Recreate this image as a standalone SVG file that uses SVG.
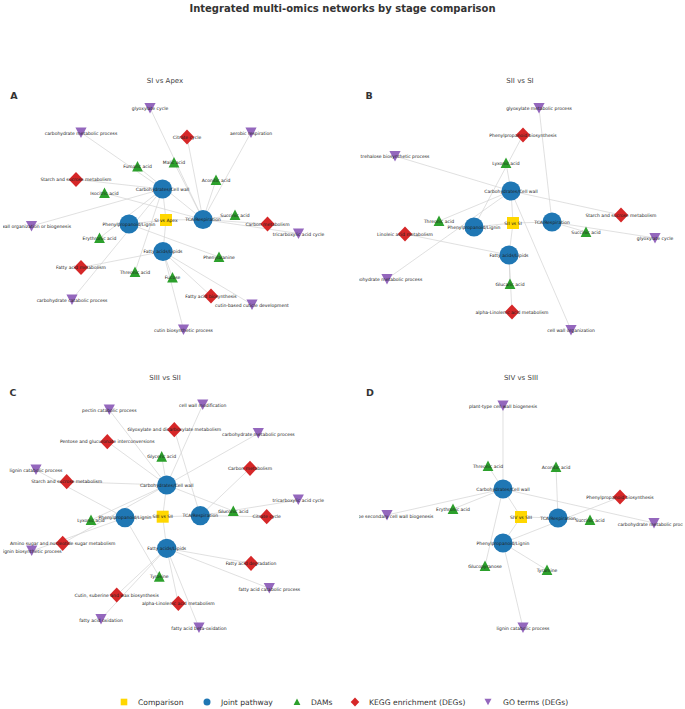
<svg xmlns="http://www.w3.org/2000/svg" xmlns:xlink="http://www.w3.org/1999/xlink" width="685" height="709" viewBox="0 0 685 709">
<style>
.lbl{font-family:"DejaVu Sans",sans-serif;font-size:4.5px;fill:#222;text-anchor:middle;dominant-baseline:central}
.ptitle{font-family:"DejaVu Sans",sans-serif;font-size:7px;fill:#444;text-anchor:middle;dominant-baseline:central}
.plet{font-family:"DejaVu Sans",sans-serif;font-size:9.5px;font-weight:bold;fill:#333;text-anchor:middle;dominant-baseline:central}
.title{font-family:"DejaVu Sans",sans-serif;font-size:10px;font-weight:bold;fill:#333;text-anchor:middle;dominant-baseline:central}
.leg{font-family:"DejaVu Sans",sans-serif;font-size:7.6px;fill:#333;dominant-baseline:central}
.edges line{stroke:#d2d2d2;stroke-width:0.7}
</style>
<defs>
<rect id="cmp" x="-6" y="-6" width="12" height="12" fill="#ffd700"/>
<circle id="joint" r="9.6" fill="#1f77b4"/>
<polygon id="dam" points="0,-5.6 -5.4,5 5.4,5" fill="#2ca02c"/>
<polygon id="kegg" points="0,-7.6 7.2,0 0,7.6 -7.2,0" fill="#d62728"/>
<polygon id="go" points="-5.6,-5 5.6,-5 0,5.6" fill="#9467bd"/>
<clipPath id="clipL"><rect x="3" y="60" width="338" height="640"/></clipPath>
<clipPath id="clipR"><rect x="359" y="60" width="324" height="640"/></clipPath>
</defs>
<rect width="685" height="709" fill="#fff"/>
<text class="title" x="342.5" y="8">Integrated multi-omics networks by stage comparison</text>

<!-- Panel A -->
<text class="ptitle" x="165" y="81">SI vs Apex</text>
<text class="plet" x="14" y="95">A</text>
<g clip-path="url(#clipL)">
<g id="edges-A" class="edges">
<line x1="166" y1="220" x2="162.5" y2="189"/><line x1="166" y1="220" x2="129" y2="224"/><line x1="166" y1="220" x2="203" y2="219.5"/><line x1="166" y1="220" x2="163" y2="251.5"/>
<line x1="162.5" y1="189" x2="81" y2="132.5"/><line x1="162.5" y1="189" x2="76" y2="179.5"/><line x1="162.5" y1="189" x2="31.5" y2="226"/><line x1="162.5" y1="189" x2="99.5" y2="238"/><line x1="162.5" y1="189" x2="72" y2="299.5"/><line x1="162.5" y1="189" x2="135" y2="272"/>
<line x1="129" y1="224" x2="219" y2="257"/>
<line x1="203" y1="219.5" x2="150" y2="108"/><line x1="203" y1="219.5" x2="187" y2="137"/><line x1="203" y1="219.5" x2="251" y2="132.5"/><line x1="203" y1="219.5" x2="174" y2="162.5"/><line x1="203" y1="219.5" x2="137.5" y2="166.5"/><line x1="203" y1="219.5" x2="216" y2="180"/><line x1="203" y1="219.5" x2="104.5" y2="193"/><line x1="203" y1="219.5" x2="235" y2="215"/><line x1="203" y1="219.5" x2="267.5" y2="224"/><line x1="203" y1="219.5" x2="298.5" y2="233.5"/>
<line x1="163" y1="251.5" x2="81" y2="267.5"/><line x1="163" y1="251.5" x2="172.5" y2="277.5"/><line x1="163" y1="251.5" x2="211" y2="296"/><line x1="163" y1="251.5" x2="252" y2="304.5"/><line x1="163" y1="251.5" x2="183.5" y2="329.5"/>
</g>
<g id="A-carb"><use href="#joint" x="162.5" y="189"/><text class="lbl" x="162.5" y="189">Carbohydrates/Cell wall</text></g>
<g id="A-phen"><use href="#joint" x="129" y="224"/><text class="lbl" x="129" y="224">Phenylpropanoid/Lignin</text></g>
<g id="A-tca"><use href="#joint" x="203" y="219.5"/><text class="lbl" x="203" y="219.5">TCA/Respiration</text></g>
<g id="A-fat"><use href="#joint" x="163" y="251.5"/><text class="lbl" x="163" y="251.5">Fatty acids/Lipids</text></g>
<g id="A-cmp"><use href="#cmp" x="166" y="220"/><text class="lbl" x="166" y="220">SI vs Apex</text></g>
<g id="A-fum"><use href="#dam" x="137.5" y="166.5"/><text class="lbl" x="137.5" y="166.5">Fumaric acid</text></g>
<g id="A-mal"><use href="#dam" x="174" y="162.5"/><text class="lbl" x="174" y="162.5">Malic acid</text></g>
<g id="A-aco"><use href="#dam" x="216" y="180"/><text class="lbl" x="216" y="180">Aconitic acid</text></g>
<g id="A-iso"><use href="#dam" x="104.5" y="193"/><text class="lbl" x="104.5" y="193">Isocitric acid</text></g>
<g id="A-suc"><use href="#dam" x="235" y="215"/><text class="lbl" x="235" y="215">Succinic acid</text></g>
<g id="A-ery"><use href="#dam" x="99.5" y="238"/><text class="lbl" x="99.5" y="238">Erythronic acid</text></g>
<g id="A-phe"><use href="#dam" x="219" y="257"/><text class="lbl" x="219" y="257">Phenylalanine</text></g>
<g id="A-thr"><use href="#dam" x="135" y="272"/><text class="lbl" x="135" y="272">Threonic acid</text></g>
<g id="A-fuc"><use href="#dam" x="172.5" y="277.5"/><text class="lbl" x="172.5" y="277.5">Fucose</text></g>
<g id="A-cit"><use href="#kegg" x="187" y="137"/><text class="lbl" x="187" y="137">Citrate cycle</text></g>
<g id="A-sta"><use href="#kegg" x="76" y="179.5"/><text class="lbl" x="76" y="179.5">Starch and sucrose metabolism</text></g>
<g id="A-cbm"><use href="#kegg" x="267.5" y="224"/><text class="lbl" x="267.5" y="224">Carbon metabolism</text></g>
<g id="A-fam"><use href="#kegg" x="81" y="267.5"/><text class="lbl" x="81" y="267.5">Fatty acid metabolism</text></g>
<g id="A-fab"><use href="#kegg" x="211" y="296"/><text class="lbl" x="211" y="296">Fatty acid biosynthesis</text></g>
<g id="A-glc"><use href="#go" x="150" y="108"/><text class="lbl" x="150" y="108.5">glyoxylate cycle</text></g>
<g id="A-cmp2"><use href="#go" x="81" y="132.5"/><text class="lbl" x="81" y="133">carbohydrate metabolic process</text></g>
<g id="A-aer"><use href="#go" x="251" y="132.5"/><text class="lbl" x="251" y="133">aerobic respiration</text></g>
<g id="A-cwo"><use href="#go" x="31.5" y="226"/><text class="lbl" x="31.5" y="226.5">cell wall organization or biogenesis</text></g>
<g id="A-tri"><use href="#go" x="298.5" y="233.5"/><text class="lbl" x="298.5" y="234">tricarboxylic acid cycle</text></g>
<g id="A-ccp"><use href="#go" x="72" y="299.5"/><text class="lbl" x="72" y="300">carbohydrate catabolic process</text></g>
<g id="A-ccd"><use href="#go" x="252" y="304.5"/><text class="lbl" x="252" y="305">cutin-based cuticle development</text></g>
<g id="A-cbp"><use href="#go" x="183.5" y="329.5"/><text class="lbl" x="183.5" y="330">cutin biosynthetic process</text></g>
</g>

<!-- Panel B -->
<text class="ptitle" x="520" y="81">SII vs SI</text>
<text class="plet" x="369" y="95">B</text>
<g clip-path="url(#clipR)">
<g id="edges-B" class="edges">
<line x1="513" y1="223" x2="511" y2="191"/><line x1="513" y1="223" x2="474" y2="227"/><line x1="513" y1="223" x2="552" y2="222"/><line x1="513" y1="223" x2="509" y2="255"/>
<line x1="511" y1="191" x2="395" y2="156"/><line x1="511" y1="191" x2="621" y2="215"/><line x1="511" y1="191" x2="439" y2="221"/><line x1="511" y1="191" x2="387" y2="279"/><line x1="511" y1="191" x2="571" y2="330"/><line x1="511" y1="191" x2="506" y2="163"/>
<line x1="474" y1="227" x2="523" y2="135"/>
<line x1="552" y1="222" x2="539" y2="108"/><line x1="552" y1="222" x2="586" y2="232"/><line x1="552" y1="222" x2="655" y2="238"/>
<line x1="509" y1="255" x2="405" y2="234"/><line x1="509" y1="255" x2="510" y2="284"/><line x1="509" y1="255" x2="512" y2="312"/>
</g>
<g id="B-carb"><use href="#joint" x="511" y="191"/><text class="lbl" x="511" y="191">Carbohydrates/Cell wall</text></g>
<g id="B-phen"><use href="#joint" x="474" y="227"/><text class="lbl" x="474" y="227">Phenylpropanoid/Lignin</text></g>
<g id="B-tca"><use href="#joint" x="552" y="222"/><text class="lbl" x="552" y="222">TCA/Respiration</text></g>
<g id="B-fat"><use href="#joint" x="509" y="255"/><text class="lbl" x="509" y="255">Fatty acids/Lipids</text></g>
<g id="B-cmp"><use href="#cmp" x="513" y="223"/><text class="lbl" x="513" y="223">SII vs SI</text></g>
<g id="B-lyx"><use href="#dam" x="506" y="163"/><text class="lbl" x="506" y="163">Lyxonic acid</text></g>
<g id="B-thr"><use href="#dam" x="439" y="221"/><text class="lbl" x="439" y="221">Threonic acid</text></g>
<g id="B-suc"><use href="#dam" x="586" y="232"/><text class="lbl" x="586" y="232">Succinic acid</text></g>
<g id="B-glu"><use href="#dam" x="510" y="284"/><text class="lbl" x="510" y="284">Glucaric acid</text></g>
<g id="B-ppb"><use href="#kegg" x="523" y="135"/><text class="lbl" x="523" y="135">Phenylpropanoid biosynthesis</text></g>
<g id="B-sta"><use href="#kegg" x="621" y="215"/><text class="lbl" x="621" y="215">Starch and sucrose metabolism</text></g>
<g id="B-lin"><use href="#kegg" x="405" y="234"/><text class="lbl" x="405" y="234">Linoleic acid metabolism</text></g>
<g id="B-aln"><use href="#kegg" x="512" y="312"/><text class="lbl" x="512" y="312">alpha-Linolenic acid metabolism</text></g>
<g id="B-gmp"><use href="#go" x="539" y="108"/><text class="lbl" x="539" y="108.5">glyoxylate metabolic process</text></g>
<g id="B-tre"><use href="#go" x="395" y="156"/><text class="lbl" x="395" y="156.5">trehalose biosynthetic process</text></g>
<g id="B-glc"><use href="#go" x="655" y="238"/><text class="lbl" x="655" y="238.5">glyoxylate cycle</text></g>
<g id="B-cmp2"><use href="#go" x="387" y="279"/><text class="lbl" x="386" y="279.5">carbohydrate metabolic process</text></g>
<g id="B-cwo"><use href="#go" x="571" y="330"/><text class="lbl" x="571" y="330.5">cell wall organization</text></g>
</g>

<!-- Panel C -->
<text class="ptitle" x="165" y="378">SIII vs SII</text>
<text class="plet" x="13" y="392">C</text>
<g clip-path="url(#clipL)">
<g id="edges-C" class="edges">
<line x1="162.7" y1="516.7" x2="166.7" y2="485"/><line x1="162.7" y1="516.7" x2="125" y2="517.7"/><line x1="162.7" y1="516.7" x2="200.3" y2="515.7"/><line x1="162.7" y1="516.7" x2="166.7" y2="548.3"/>
<line x1="166.7" y1="485" x2="109.3" y2="410"/><line x1="166.7" y1="485" x2="202.7" y2="405"/><line x1="166.7" y1="485" x2="258.3" y2="433.3"/><line x1="166.7" y1="485" x2="107.3" y2="441.7"/><line x1="166.7" y1="485" x2="161.7" y2="456.7"/><line x1="166.7" y1="485" x2="66.7" y2="481.7"/><line x1="166.7" y1="485" x2="233.3" y2="511"/><line x1="166.7" y1="485" x2="62.7" y2="543.3"/><line x1="166.7" y1="485" x2="91" y2="520"/>
<line x1="125" y1="517.7" x2="36" y2="470"/><line x1="125" y1="517.7" x2="91" y2="520"/><line x1="125" y1="517.7" x2="31.7" y2="551"/><line x1="125" y1="517.7" x2="159.3" y2="576.7"/>
<line x1="200.3" y1="515.7" x2="174.3" y2="429.7"/><line x1="200.3" y1="515.7" x2="250" y2="468.3"/><line x1="200.3" y1="515.7" x2="298.3" y2="500"/><line x1="200.3" y1="515.7" x2="266.7" y2="516.7"/>
<line x1="166.7" y1="548.3" x2="116.7" y2="595"/><line x1="166.7" y1="548.3" x2="101" y2="619"/><line x1="166.7" y1="548.3" x2="178.3" y2="603.3"/><line x1="166.7" y1="548.3" x2="199" y2="627.7"/><line x1="166.7" y1="548.3" x2="251" y2="563.3"/><line x1="166.7" y1="548.3" x2="269.3" y2="588.3"/>
</g>
<g id="C-carb"><use href="#joint" x="166.7" y="485"/><text class="lbl" x="166.7" y="485">Carbohydrates/Cell wall</text></g>
<g id="C-phen"><use href="#joint" x="125" y="517.7"/><text class="lbl" x="125" y="517.7">Phenylpropanoid/Lignin</text></g>
<g id="C-tca"><use href="#joint" x="200.3" y="515.7"/><text class="lbl" x="200.3" y="515.7">TCA/Respiration</text></g>
<g id="C-fat"><use href="#joint" x="166.7" y="548.3"/><text class="lbl" x="166.7" y="548.3">Fatty acids/Lipids</text></g>
<g id="C-cmp"><use href="#cmp" x="162.7" y="516.7"/><text class="lbl" x="162.7" y="516.7">SIII vs SII</text></g>
<g id="C-gly"><use href="#dam" x="161.7" y="456.7"/><text class="lbl" x="161.7" y="456.7">Glyceric acid</text></g>
<g id="C-glu"><use href="#dam" x="233.3" y="511"/><text class="lbl" x="233.3" y="511">Gluconic acid</text></g>
<g id="C-lyx"><use href="#dam" x="91" y="520"/><text class="lbl" x="91" y="520">Lyxonic acid</text></g>
<g id="C-tyr"><use href="#dam" x="159.3" y="576.7"/><text class="lbl" x="159.3" y="576.7">Tyrosine</text></g>
<g id="C-gdm"><use href="#kegg" x="174.3" y="429.7"/><text class="lbl" x="174.3" y="429.7">Glyoxylate and dicarboxylate metabolism</text></g>
<g id="C-pen"><use href="#kegg" x="107.3" y="441.7"/><text class="lbl" x="107.3" y="441.7">Pentose and glucuronate interconversions</text></g>
<g id="C-sta"><use href="#kegg" x="66.7" y="481.7"/><text class="lbl" x="66.7" y="481.7">Starch and sucrose metabolism</text></g>
<g id="C-cbm"><use href="#kegg" x="250" y="468.3"/><text class="lbl" x="250" y="468.3">Carbon metabolism</text></g>
<g id="C-cit"><use href="#kegg" x="266.7" y="516.7"/><text class="lbl" x="266.7" y="516.7">Citrate cycle</text></g>
<g id="C-ami"><use href="#kegg" x="62.7" y="543.3"/><text class="lbl" x="62.7" y="543.3">Amino sugar and nucleotide sugar metabolism</text></g>
<g id="C-fad"><use href="#kegg" x="251" y="563.3"/><text class="lbl" x="251" y="563.3">Fatty acid degradation</text></g>
<g id="C-cut"><use href="#kegg" x="116.7" y="595"/><text class="lbl" x="116.7" y="595">Cutin, suberine and wax biosynthesis</text></g>
<g id="C-aln"><use href="#kegg" x="178.3" y="603.3"/><text class="lbl" x="178.3" y="603.3">alpha-Linolenic acid metabolism</text></g>
<g id="C-pec"><use href="#go" x="109.3" y="409.5"/><text class="lbl" x="109.3" y="410.5">pectin catabolic process</text></g>
<g id="C-cwm"><use href="#go" x="202.7" y="404.5"/><text class="lbl" x="202.7" y="405.5">cell wall modification</text></g>
<g id="C-cmp2"><use href="#go" x="258.3" y="433"/><text class="lbl" x="258.3" y="434">carbohydrate metabolic process</text></g>
<g id="C-lcp"><use href="#go" x="36" y="469.5"/><text class="lbl" x="36" y="470.5">lignin catabolic process</text></g>
<g id="C-tri"><use href="#go" x="298.3" y="499.5"/><text class="lbl" x="298.3" y="500.5">tricarboxylic acid cycle</text></g>
<g id="C-lbp"><use href="#go" x="31.7" y="550.5"/><text class="lbl" x="31.7" y="551.5">lignin biosynthetic process</text></g>
<g id="C-fcp"><use href="#go" x="269.3" y="588"/><text class="lbl" x="269.3" y="589">fatty acid catabolic process</text></g>
<g id="C-fao"><use href="#go" x="101" y="619"/><text class="lbl" x="101" y="620">fatty acid oxidation</text></g>
<g id="C-fbo"><use href="#go" x="199" y="627.5"/><text class="lbl" x="199" y="628.5">fatty acid beta-oxidation</text></g>
</g>

<!-- Panel D -->
<text class="ptitle" x="521" y="378">SIV vs SIII</text>
<text class="plet" x="370" y="392">D</text>
<g clip-path="url(#clipR)">
<g id="edges-D" class="edges">
<line x1="521" y1="517" x2="503" y2="489"/><line x1="521" y1="517" x2="503" y2="543"/><line x1="521" y1="517" x2="558" y2="518"/>
<line x1="503" y1="489" x2="503" y2="406"/><line x1="503" y1="489" x2="488" y2="466"/><line x1="503" y1="489" x2="453" y2="509"/><line x1="503" y1="489" x2="387" y2="515"/><line x1="503" y1="489" x2="654" y2="523"/><line x1="503" y1="489" x2="485" y2="566"/>
<line x1="503" y1="543" x2="620" y2="497"/><line x1="503" y1="543" x2="547" y2="570"/><line x1="503" y1="543" x2="523" y2="628"/>
<line x1="558" y1="518" x2="556" y2="467"/><line x1="558" y1="518" x2="590" y2="520"/>
</g>
<g id="D-carb"><use href="#joint" x="503" y="489"/><text class="lbl" x="503" y="489">Carbohydrates/Cell wall</text></g>
<g id="D-phen"><use href="#joint" x="503" y="543"/><text class="lbl" x="503" y="543">Phenylpropanoid/Lignin</text></g>
<g id="D-tca"><use href="#joint" x="558" y="518"/><text class="lbl" x="558" y="518">TCA/Respiration</text></g>
<g id="D-cmp"><use href="#cmp" x="521" y="517"/><text class="lbl" x="521" y="517">SIV vs SIII</text></g>
<g id="D-thr"><use href="#dam" x="488" y="466"/><text class="lbl" x="488" y="466">Threonic acid</text></g>
<g id="D-aco"><use href="#dam" x="556" y="467"/><text class="lbl" x="556" y="467">Aconitic acid</text></g>
<g id="D-ery"><use href="#dam" x="453" y="509"/><text class="lbl" x="453" y="509">Erythronic acid</text></g>
<g id="D-suc"><use href="#dam" x="590" y="520"/><text class="lbl" x="590" y="520">Succinic acid</text></g>
<g id="D-glp"><use href="#dam" x="485" y="566"/><text class="lbl" x="485" y="566">Glucopyranose</text></g>
<g id="D-tyr"><use href="#dam" x="547" y="570"/><text class="lbl" x="547" y="570">Tyramine</text></g>
<g id="D-ppb"><use href="#kegg" x="620" y="497"/><text class="lbl" x="620" y="497">Phenylpropanoid biosynthesis</text></g>
<g id="D-pcw"><use href="#go" x="503" y="405.5"/><text class="lbl" x="503" y="406.5">plant-type cell wall biogenesis</text></g>
<g id="D-scw"><use href="#go" x="387" y="515"/><text class="lbl" x="387" y="516">plant-type secondary cell wall biogenesis</text></g>
<g id="D-cmp2"><use href="#go" x="654" y="523"/><text class="lbl" x="654" y="524">carbohydrate metabolic process</text></g>
<g id="D-lcp"><use href="#go" x="523" y="627.5"/><text class="lbl" x="523" y="628.5">lignin catabolic process</text></g>
</g>

<!-- Legend -->
<g id="legend">
<rect x="120.7" y="698.7" width="6.6" height="6.6" fill="#ffd700"/>
<text class="leg" x="138" y="702">Comparison</text>
<circle cx="207" cy="702" r="3.5" fill="#1f77b4"/>
<text class="leg" x="221" y="702">Joint pathway</text>
<polygon points="297,698.4 293.6,705 300.4,705" fill="#2ca02c"/>
<text class="leg" x="311" y="702">DAMs</text>
<polygon points="355,697.6 359.3,702 355,706.4 350.7,702" fill="#d62728"/>
<text class="leg" x="369" y="702">KEGG enrichment (DEGs)</text>
<polygon points="484.5,698.7 491.5,698.7 488,705.3" fill="#9467bd"/>
<text class="leg" x="503" y="702">GO terms (DEGs)</text>
</g>
</svg>
